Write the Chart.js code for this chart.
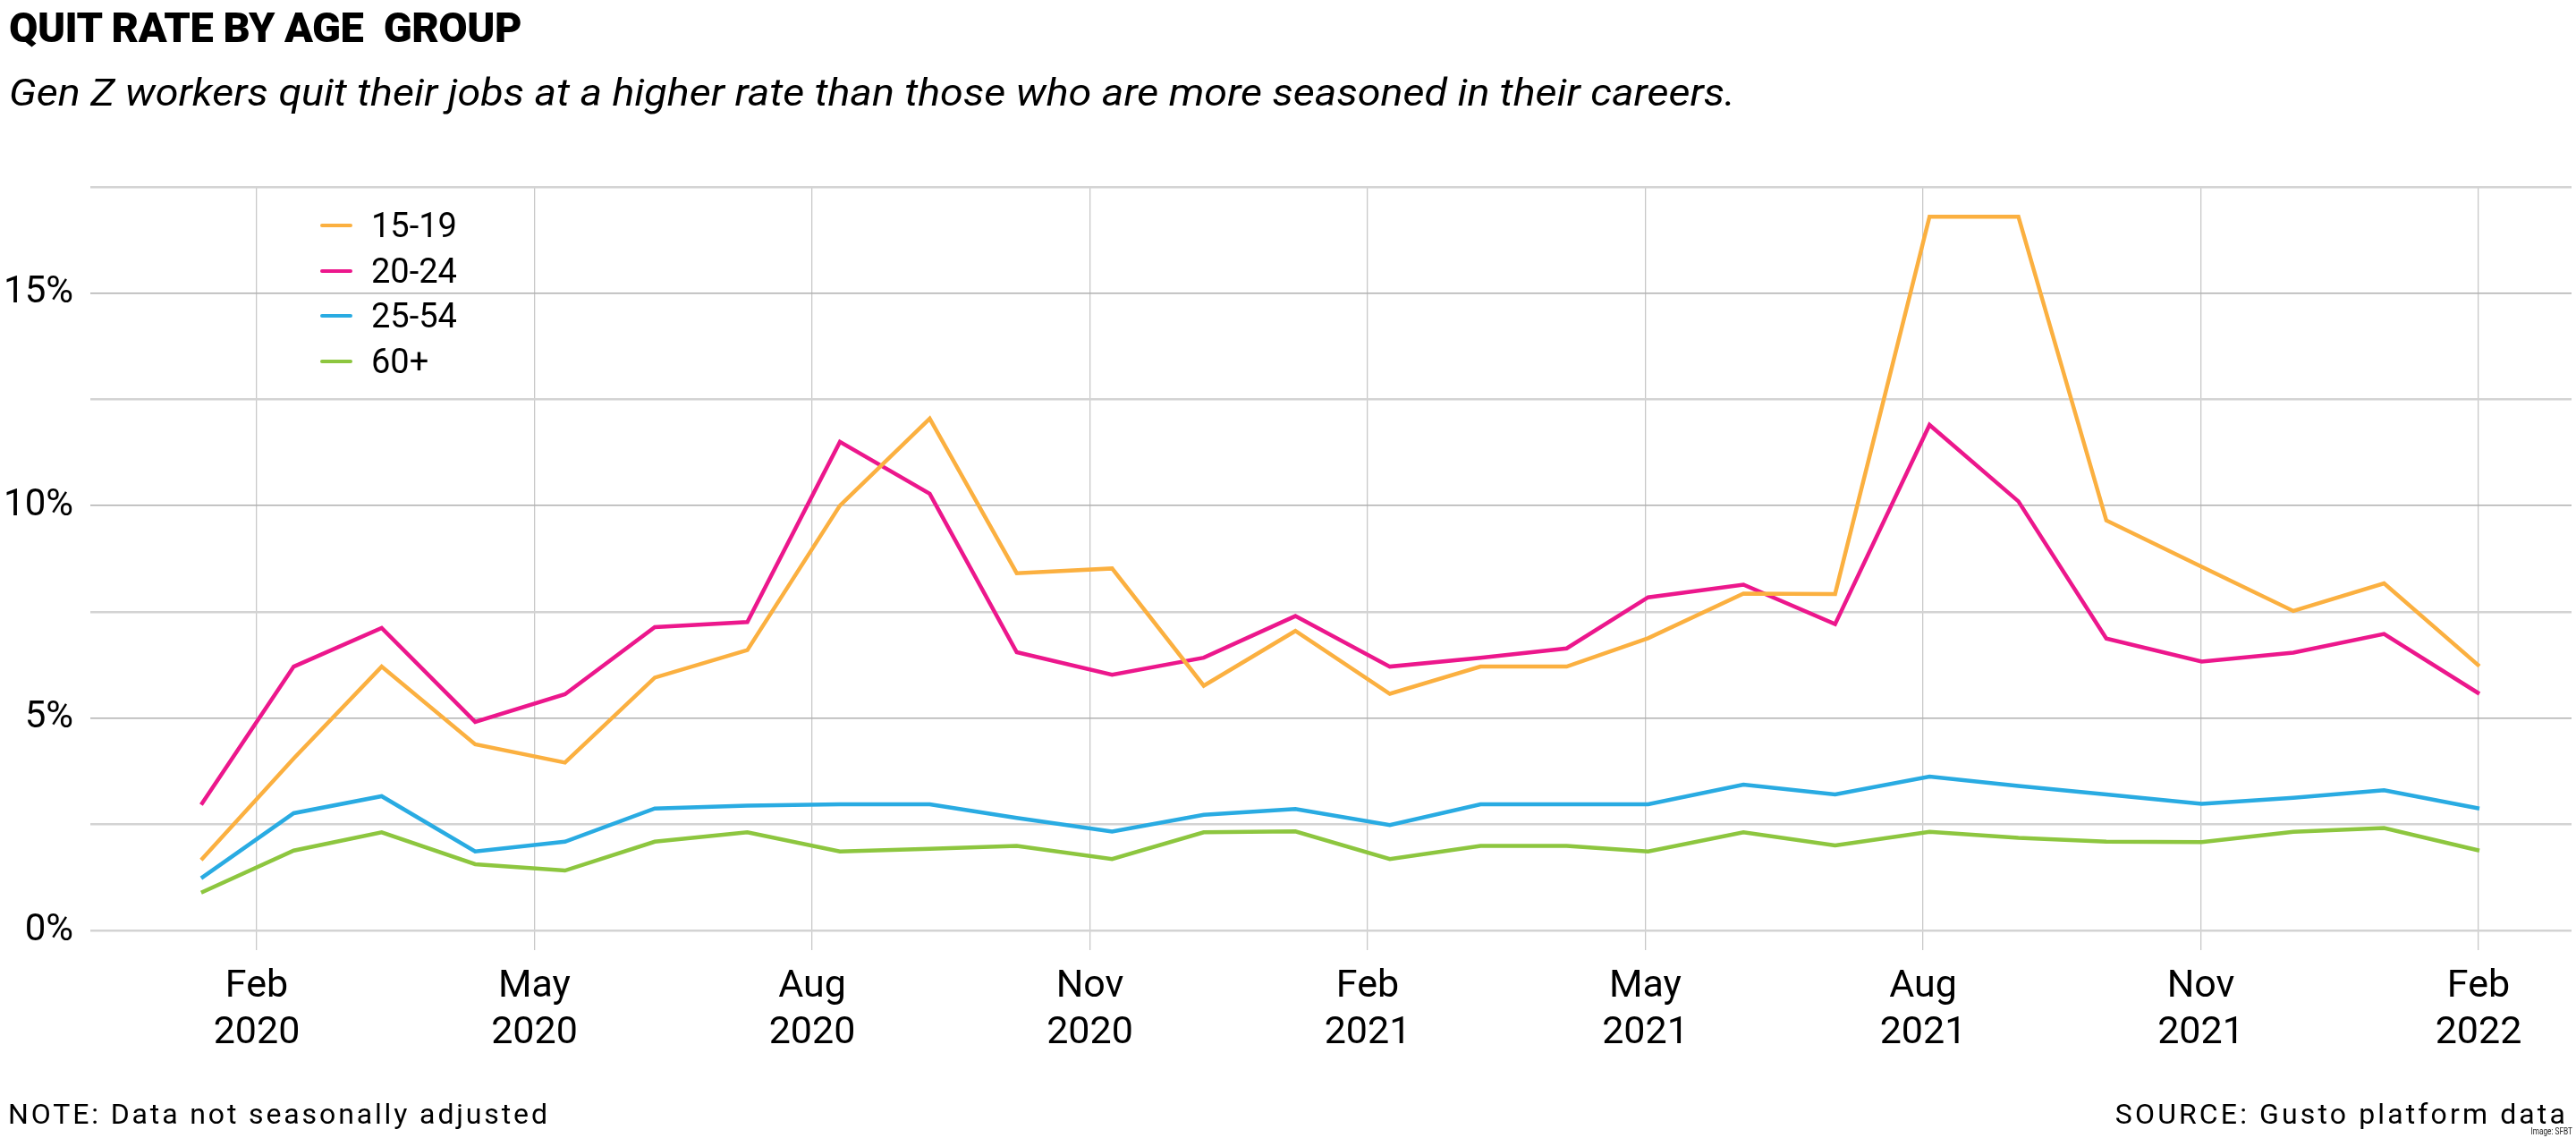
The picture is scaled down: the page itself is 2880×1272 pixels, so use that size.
<!DOCTYPE html>
<html>
<head>
<meta charset="utf-8">
<script src="https://cdn.jsdelivr.net/npm/chart.js@4.4.1/dist/chart.umd.min.js"></script>
<style>
  html, body { margin: 0; padding: 0; background: #fff; }
  body { width: 2880px; height: 1272px; position: relative; overflow: hidden; font-family: Roboto, "Noto Sans", sans-serif; color: #000; }
  #chart { position: absolute; left: 0; top: 0; width: 2880px; height: 1272px; }
  .t { position: absolute; white-space: nowrap; line-height: 1; }
  #title { left: 10px; top: 8px; font-size: 46px; font-weight: 900; transform-origin: left top; letter-spacing: -0.5px; }
  #subtitle { left: 10px; top: 83px; font-size: 42px; font-style: italic; font-weight: 400; transform-origin: left top; }
  #note { left: 9px; top: 1229px; font-size: 32px; }
  #source { right: 9px; top: 1229px; font-size: 32px; }
  #credit { right: 4px; top: 1259px; font-size: 11px; transform-origin: right top; transform: scaleX(0.75); color: #222; }
  #legend { position: absolute; left: 358px; top: 0; }
  .row { position: absolute; left: 0; height: 50px; display: flex; align-items: center; white-space: nowrap; }
  .swatch { width: 36px; height: 4px; border-radius: 2px; }
  .lab { margin-left: 21px; font-size: 38px; line-height: 1; }
</style>
</head>
<body>
<canvas id="chart" width="2880" height="1272"></canvas>
<div class="t" id="title">QUIT RATE BY AGE&nbsp;&nbsp;GROUP</div>
<div class="t" id="subtitle">Gen Z workers quit their jobs at a higher rate than those who are more seasoned in their careers.</div>
<div id="legend"></div>
<div class="t" id="note">NOTE: Data not seasonally adjusted</div>
<div class="t" id="source">SOURCE: Gusto platform data</div>
<div class="t" id="credit">Image: SFBT</div>
<script>
// ---- data ----
const months = ["Jan 2020","Feb 2020","Mar 2020","Apr 2020","May 2020","Jun 2020","Jul 2020","Aug 2020","Sep 2020","Oct 2020","Nov 2020","Dec 2020",
                "Jan 2021","Feb 2021","Mar 2021","Apr 2021","May 2021","Jun 2021","Jul 2021","Aug 2021","Sep 2021","Oct 2021","Nov 2021","Dec 2021",
                "Jan 2022","Feb 2022"];
// horizontal position of each point, in months after the "Feb 2020" axis tick (as drawn in the reference)
const pointPos = [-0.60, 0.40, 1.35, 2.36, 3.33, 4.30, 5.30, 6.30, 7.27, 8.21, 9.24, 10.23, 11.22, 12.24, 13.22, 14.15, 15.03, 16.06, 17.05, 18.07, 19.03, 19.98, 21.01, 22.00, 22.98, 24.01];

const seriesLabels = ["15-19", "20-24", "25-54", "60+"];
const seriesColors = ["#FBB040", "#EC178C", "#29ABE2", "#8DC63F"];

const age15_19 = [1.66, 4.05, 6.21, 4.38, 3.95, 5.95, 6.60, 10.00, 12.05, 8.41, 8.52, 5.76, 7.05, 5.57, 6.21, 6.21, 6.88, 7.93, 7.92, 16.80, 16.80, 9.65, 8.56, 7.52, 8.17, 6.22];
const age20_24 = [2.96, 6.21, 7.12, 4.91, 5.56, 7.14, 7.26, 11.50, 10.28, 6.55, 6.02, 6.42, 7.40, 6.21, 6.42, 6.64, 7.84, 8.14, 7.21, 11.90, 10.10, 6.87, 6.33, 6.54, 6.98, 5.57];
const age25_54 = [1.23, 2.76, 3.16, 1.86, 2.09, 2.87, 2.94, 2.97, 2.97, 2.65, 2.33, 2.72, 2.86, 2.48, 2.97, 2.97, 2.97, 3.43, 3.20, 3.62, 3.40, 3.20, 2.98, 3.12, 3.30, 2.87];
const age60   = [0.89, 1.88, 2.31, 1.56, 1.41, 2.09, 2.31, 1.86, 1.92, 1.99, 1.68, 2.31, 2.33, 1.68, 1.99, 1.99, 1.86, 2.31, 2.00, 2.32, 2.18, 2.09, 2.08, 2.32, 2.41, 1.88];

const tickMonths = ["Feb", "May", "Aug", "Nov", "Feb", "May", "Aug", "Nov", "Feb"];
const tickYears  = ["2020", "2020", "2020", "2020", "2021", "2021", "2021", "2021", "2022"];
const yMax = 17.5, yStep = 2.5, yLabelEvery = 5;

// ---- build ----
const seriesValues = [age15_19, age20_24, age25_54, age60];
const datasets = seriesValues.map((vals, k) => ({
  label: seriesLabels[k],
  data: vals.map((v, i) => ({ x: pointPos[i], y: v })),
  borderColor: seriesColors[k],
  backgroundColor: seriesColors[k],
  borderWidth: 4.5,
  pointRadius: 0,
  tension: 0,
  fill: false,
  borderJoinStyle: 'miter',
  borderCapStyle: 'butt'
}));

const FONT = 'Roboto';
new Chart(document.getElementById('chart'), {
  type: 'line',
  data: { datasets },
  options: {
    responsive: false,
    animation: false,
    devicePixelRatio: 1,
    layout: { padding: { top: 209, right: 5, left: 0, bottom: 0 } },
    plugins: { legend: { display: false }, tooltip: { enabled: false }, title: { display: false } },
    scales: {
      x: {
        type: 'linear',
        min: -1.797,
        max: 25.005,
        afterBuildTicks: (s) => { s.ticks = tickMonths.map((m, i) => ({ value: i * 3 })); },
        afterFit: (s) => { s.height = 232; },
        ticks: {
          autoSkip: false, maxRotation: 0, minRotation: 0,
          color: '#000',
          padding: 15,
          font: { family: FONT, size: 43, lineHeight: 52 / 43 },
          callback: (v, i) => [tickMonths[i], tickYears[i]]
        },
        grid: { color: '#c8c8c8', lineWidth: 1.3, drawTicks: true, tickLength: 22, tickColor: '#c8c8c8', tickWidth: 1.3 },
        border: { display: false }
      },
      y: {
        min: 0,
        max: yMax,
        afterFit: (s) => { s.width = 101; },
        ticks: {
          stepSize: yStep,
          color: '#000',
          padding: 19,
          font: { family: FONT, size: 42 },
          callback: (v) => (Math.abs(v % yLabelEvery) < 1e-6 ? v + '%' : '')
        },
        grid: {
          drawTicks: false,
          color: (c) => {
            const v = c.tick ? c.tick.value : 0;
            if (v > 0 && Math.abs(v % yLabelEvery) < 1e-6) return '#b0b0b0';
            return '#d3d3d3';
          },
          lineWidth: (c) => {
            const v = c.tick ? c.tick.value : 0;
            if (v > 0 && Math.abs(v % yLabelEvery) < 1e-6) return 1.4;
            return 2.6;
          }
        },
        border: { display: false }
      }
    }
  }
});

// ---- legend (HTML) ----
const legend = document.getElementById('legend');
const legendRowCenters = [252, 302.5, 353, 403.5];
seriesLabels.forEach((lab, k) => {
  const row = document.createElement('div');
  row.className = 'row';
  row.style.top = (legendRowCenters[k] - 25) + 'px';
  const sw = document.createElement('div');
  sw.className = 'swatch';
  sw.style.background = seriesColors[k];
  const tx = document.createElement('span');
  tx.className = 'lab';
  tx.textContent = lab;
  row.appendChild(sw); row.appendChild(tx);
  legend.appendChild(row);
});

// ---- fit text widths to the reference ----
function fitScale(id, target) {
  const el = document.getElementById(id);
  const w = el.getBoundingClientRect().width;
  if (w > 0) el.style.transform = 'scaleX(' + (target / w) + ')';
}
function fitSpacing(id, target) {
  const el = document.getElementById(id);
  const w = el.getBoundingClientRect().width;
  const n = el.textContent.length;
  if (w > 0 && n > 1) el.style.letterSpacing = ((target - w) / (n - 1)) + 'px';
}
function fitAll() {
  fitScale('title', 573);
  fitScale('subtitle', 1930);
  fitSpacing('note', 603);
  fitSpacing('source', 503);
}
fitAll();
</script>
</body>
</html>
